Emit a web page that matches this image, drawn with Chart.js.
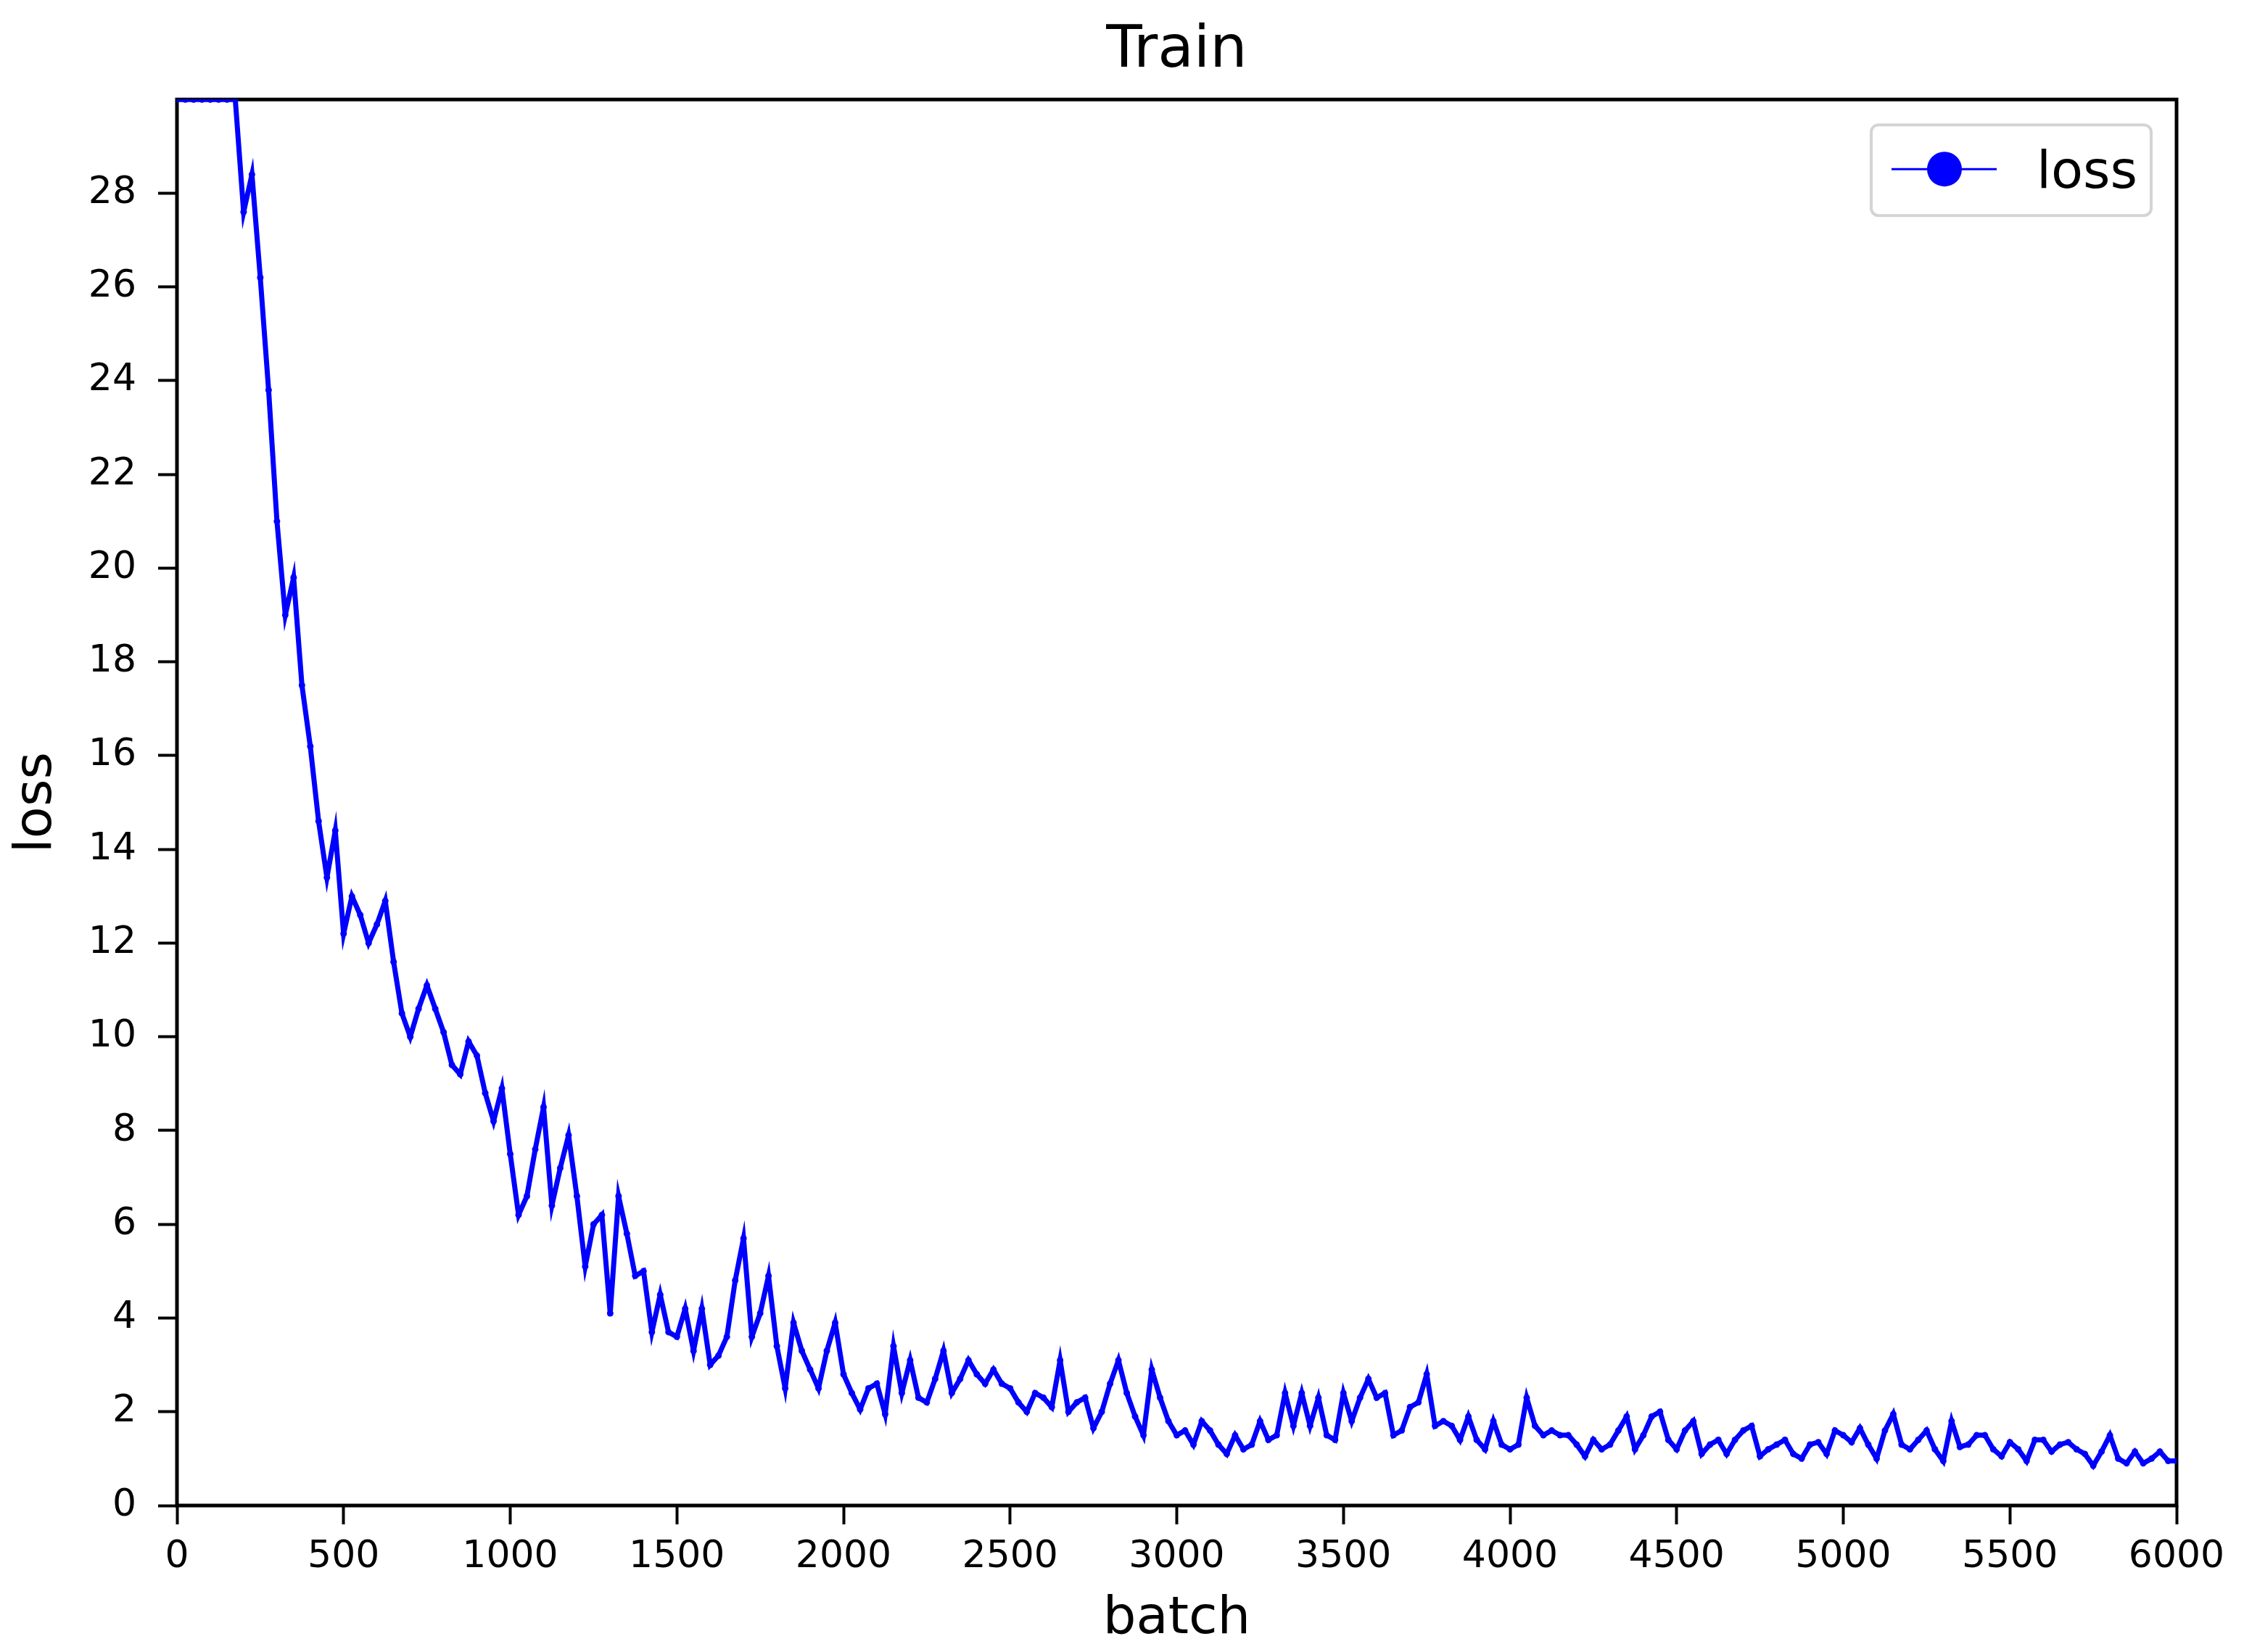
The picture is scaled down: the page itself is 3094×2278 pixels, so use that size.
<!DOCTYPE html>
<html>
<head>
<meta charset="utf-8">
<title>Train</title>
<script src="https://cdn.jsdelivr.net/npm/chart.js@4.4.1/dist/chart.umd.min.js"></script>
<style>
	html, body { margin: 0; padding: 0; background: #fff; }
	canvas { display: block; }
</style>
</head>
<body>
<canvas id="train__canvas-chart" width="3094" height="2278"></canvas>
<script>
// loss per batch, every 25 batches
// (first batches are cut at the top of the axis, 30)
const batchStep = 25;
const loss0000 = [30,30,30,30,30,30,30,30,27.6,28.4,26.2,23.8,21.0,19.0,19.8,17.5,16.2,14.6,13.4,14.4];
const loss0500 = [12.2,13.0,12.6,12.0,12.4,12.9,11.6,10.5,10.0,10.6,11.1,10.6,10.1,9.4,9.2,9.9,9.6,8.8,8.2,8.9];
const loss1000 = [7.5,6.2,6.6,7.6,8.5,6.4,7.2,7.9,6.6,5.1,6.0,6.2,4.1,6.6,5.8,4.9,5.0,3.7,4.5,3.7];
const loss1500 = [3.6,4.2,3.3,4.2,3.0,3.2,3.6,4.8,5.7,3.6,4.1,4.9,3.4,2.5,3.9,3.3,2.9,2.5,3.3,3.9];
const loss2000 = [2.8,2.4,2.05,2.5,2.6,1.95,3.4,2.4,3.1,2.3,2.2,2.7,3.3,2.4,2.7,3.1,2.8,2.6,2.9,2.6];
const loss2500 = [2.5,2.2,2.0,2.4,2.3,2.1,3.1,2.0,2.2,2.3,1.65,2.0,2.6,3.1,2.4,1.9,1.5,2.9,2.3,1.8];
const loss3000 = [1.5,1.6,1.3,1.8,1.6,1.3,1.1,1.5,1.2,1.3,1.8,1.4,1.5,2.4,1.7,2.4,1.7,2.3,1.5,1.4];
const loss3500 = [2.4,1.8,2.3,2.7,2.3,2.4,1.5,1.6,2.1,2.2,2.8,1.7,1.8,1.7,1.4,1.9,1.4,1.2,1.8,1.3];
const loss4000 = [1.2,1.3,2.3,1.7,1.5,1.6,1.5,1.5,1.3,1.05,1.4,1.2,1.3,1.6,1.9,1.2,1.5,1.9,2.0,1.4];
const loss4500 = [1.2,1.6,1.8,1.1,1.3,1.4,1.1,1.4,1.6,1.7,1.05,1.2,1.3,1.4,1.1,1.0,1.3,1.35,1.1,1.6];
const loss5000 = [1.5,1.35,1.65,1.3,1.0,1.6,1.95,1.3,1.2,1.4,1.6,1.2,0.95,1.8,1.25,1.3,1.5,1.5,1.2,1.05];
const loss5500 = [1.35,1.2,0.95,1.4,1.4,1.15,1.3,1.35,1.2,1.1,0.85,1.15,1.5,1.0,0.9,1.15,0.9,1.0,1.15,0.95,0.95];

const loss = [...loss0000, ...loss0500, ...loss1000, ...loss1500, ...loss2000, ...loss2500,
	...loss3000, ...loss3500, ...loss4000, ...loss4500, ...loss5000, ...loss5500];
const batches = loss.map((v, i) => i * batchStep);

const xRange = [0, 6000], xStep = 500;
const yRange = [0, 30], yStep = 2;

const lineColor = '#0000ff';
const fontFamily = '"DejaVu Sans", "Liberation Sans", sans-serif';
Chart.defaults.font.family = fontFamily;
Chart.defaults.color = '#000';

let ctx = document.getElementById('train__canvas-chart').getContext('2d');

// black frame round the plot, like the matplotlib spines (the line goes over it)
const frame = {
	id: 'frame',
	beforeDatasetsDraw(chart) {
		const {ctx, chartArea: a} = chart;
		ctx.save();
		ctx.strokeStyle = '#000';
		ctx.lineWidth = 5;
		ctx.strokeRect(a.left, a.top, a.right - a.left, a.bottom - a.top);
		ctx.restore();
	}
};

// legend in the upper right corner: line with a dot, then the label
const legendBox = {
	id: 'legendBox',
	afterDraw(chart) {
		const {ctx, chartArea: a} = chart;
		const w = 386, h = 125;
		const x = a.right - 35 - w, y = a.top + 35;
		ctx.save();
		ctx.fillStyle = 'rgba(255,255,255,0.85)';
		ctx.strokeStyle = '#d4d4d4';
		ctx.lineWidth = 4;
		ctx.beginPath();
		ctx.roundRect(x, y, w, h, 10);
		ctx.fill();
		ctx.stroke();
		const cy = y + 61;
		ctx.strokeStyle = lineColor;
		ctx.lineWidth = 3;
		ctx.beginPath();
		ctx.moveTo(x + 28, cy);
		ctx.lineTo(x + 173, cy);
		ctx.stroke();
		ctx.fillStyle = lineColor;
		ctx.beginPath();
		ctx.arc(x + 101, cy, 24, 0, Math.PI * 2);
		ctx.fill();
		ctx.fillStyle = '#000';
		ctx.font = '72px ' + fontFamily;
		ctx.textBaseline = 'alphabetic';
		ctx.fillText(chart.data.datasets[0].label, x + 228, y + 87);
		ctx.restore();
	}
};

const tickGrid = {
	display: true,
	drawOnChartArea: false,
	drawTicks: true,
	tickLength: 26,
	tickWidth: 4,
	tickColor: '#000'
};

let chart = new Chart(ctx, {
	type: 'line',
	data: {
		datasets: [{
			label: 'loss',
			data: batches.map((b, i) => ({x: b, y: loss[i]})),
			borderColor: lineColor,
			backgroundColor: lineColor,
			borderWidth: 7,
			pointRadius: 4.5,
			pointBorderWidth: 0,
			pointBackgroundColor: lineColor,
			borderJoinStyle: 'miter',
			tension: 0,
			fill: false
		}]
	},
	options: {
		responsive: false,
		devicePixelRatio: 1,
		animation: false,
		events: [],
		layout: {padding: {left: 0, right: 93, top: 0, bottom: 0}},
		plugins: {
			legend: {display: false},
			tooltip: {enabled: false},
			title: {
				display: true,
				text: 'Train',
				fullSize: false,
				color: '#000',
				font: {size: 81, weight: 'normal'},
				padding: {top: 22, bottom: 18}
			}
		},
		scales: {
			x: {
				type: 'linear',
				min: xRange[0],
				max: xRange[1],
				ticks: {
					stepSize: xStep,
					padding: 14,
					maxRotation: 0,
					autoSkip: false,
					color: '#000',
					font: {size: 52},
					callback: v => String(v)
				},
				grid: tickGrid,
				border: {display: false},
				title: {
					display: true,
					text: 'batch',
					color: '#000',
					font: {size: 72},
					padding: {top: 0, bottom: 2}
				},
				afterFit: s => { s.height = 202; }
			},
			y: {
				min: yRange[0],
				max: yRange[1],
				ticks: {
					stepSize: yStep,
					padding: 30,
					color: '#000',
					font: {size: 52},
					callback: v => String(v)
				},
				afterBuildTicks: s => { s.ticks = s.ticks.filter(t => t.value < yRange[1]); },
				grid: tickGrid,
				border: {display: false},
				title: {
					display: true,
					text: 'loss',
					color: '#000',
					font: {size: 72},
					padding: {top: 8, bottom: 0}
				},
				afterFit: s => { s.width = 244; }
			}
		}
	},
	plugins: [frame, legendBox]
});
</script>
</body>
</html>
